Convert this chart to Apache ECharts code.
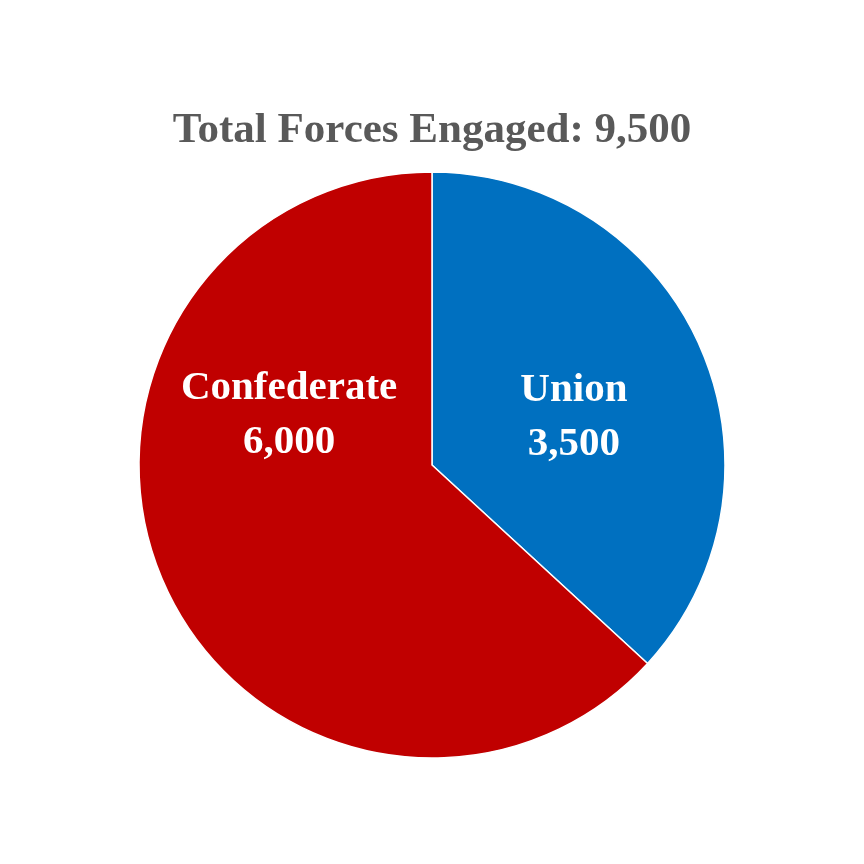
<!DOCTYPE html>
<html><head><meta charset="utf-8">
<script src="https://cdn.jsdelivr.net/npm/echarts@6/dist/echarts.min.js"></script>
<style>html,body{margin:0;padding:0;background:#fff}#c{width:864px;height:864px}</style>
</head><body><div id="c"></div>
<script>
const categories = ['Union', 'Confederate'];
const values = [3500, 6000];
const colors = ['#0070C0', '#C00000'];
const titleText = 'Total Forces Engaged: 9,500';
const labelOffsets = [[5, 12], [-6, -110]];

const chart = echarts.init(document.getElementById('c'));
chart.setOption({
  backgroundColor: '#fff',
  animation: false,
  title: {
    text: titleText, left: 'center', top: 104,
    textStyle: { fontFamily: 'Liberation Serif', fontWeight: 'bold', fontSize: 43, color: '#595959' }
  },
  series: [{
    type: 'pie',
    center: [432, 465],
    radius: [0, 293],
    startAngle: 90,
    clockwise: true,
    itemStyle: { borderColor: '#fff', borderWidth: 1.5 },
    label: {
      position: 'inside',
      formatter: p => p.name + '\n' + p.value.toLocaleString('en-US'),
      fontFamily: 'Liberation Serif', fontWeight: 'bold', fontSize: 41,
      color: '#fff', lineHeight: 54
    },
    labelLine: { show: false },
    data: categories.map((c, i) => ({ name: c, value: values[i], itemStyle: { color: colors[i] }, label: { offset: labelOffsets[i] } }))
  }]
});
</script></body></html>
